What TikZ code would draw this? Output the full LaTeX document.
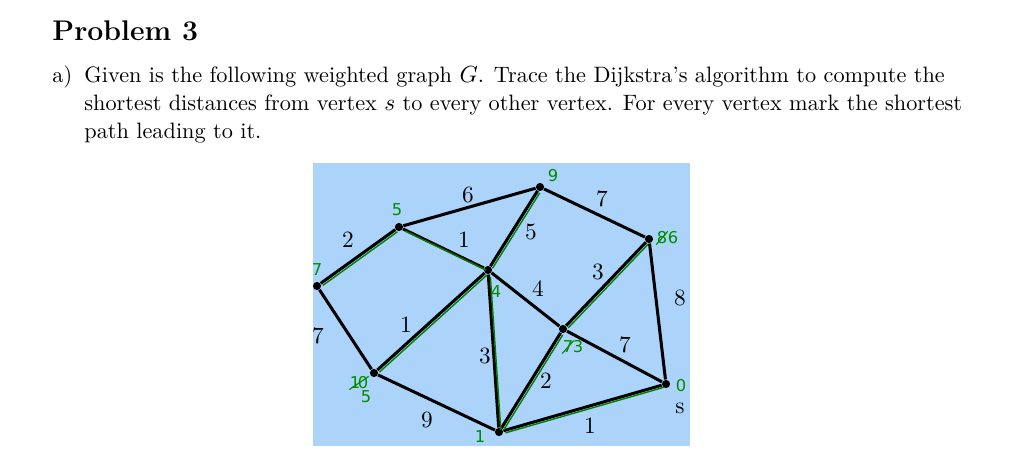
\documentclass[tikz,border=0pt]{standalone}
\usepackage{fontspec}
\newfontfamily\hand{DejaVu Sans}
\definecolor{bgblue}{RGB}{172,212,250}
\begin{document}
\begin{tikzpicture}[x=0.429pt,y=-0.429pt,
  vtx/.style={circle,fill=black,inner sep=0pt,minimum size=3.5pt},
  edge/.style={line width=1.3pt,black},
  gr/.style={green!50!black,line width=0.6pt},
  wt/.style={inner sep=0pt,font=\normalsize},
  gl/.style={inner sep=0pt,text=green!55!black,font=\hand\scriptsize},
  strike/.style={green!55!black,line width=0.5pt},
  txt/.style={anchor=base west,inner sep=0pt,font=\fontsize{9.55}{11}\selectfont}]
\useasboundingbox (0,0) rectangle (1024,470);
\node[anchor=base west,inner sep=0pt,font=\fontsize{12.2}{14}\selectfont\bfseries] (title) at (52,40) {Problem 3};
\node[txt] (la) at (52,82) {a)};
\node[txt] (l1) at (84,82) {Given is the following weighted graph $G$. Trace the Dijkstra's algorithm to compute the};
\node[txt] (l2) at (84,110) {shortest distances from vertex $s$ to every other vertex. For every vertex mark the shortest};
\node[txt] (l3) at (84,138) {path leading to it.};
\fill[bgblue] (313,163) rectangle (690,446);
\node[vtx] (A) at (317,286) {};
\node[vtx] (B) at (399,227) {};
\node[vtx] (C) at (540,187) {};
\node[vtx] (D) at (649,239) {};
\node[vtx] (E) at (488,270) {};
\node[vtx] (F) at (563,329) {};
\node[vtx] (G) at (374,373) {};
\node[vtx] (H) at (499,432) {};
\node[vtx] (S) at (666,384) {};
\foreach \a/\b in {A/B,B/C,C/D,B/E,E/C,A/G,G/E,E/H,E/F,F/D,D/S,F/S,G/H,H/F,H/S}
  \draw[edge] (\a) -- (\b);
\foreach \a/\b in {A/B,B/E,E/C,E/G,E/H,H/F,F/D,H/S}
  \draw[gr,transform canvas={xshift=0.9pt,yshift=-0.9pt}] (\a) -- (\b);
\node[wt] (w1) at (348,240) {2};
\node[wt] (w2) at (468,195) {6};
\node[wt] (w3) at (464,240) {1};
\node[wt] (w4) at (531,232) {5};
\node[wt] (w5) at (602,199) {7};
\node[wt] (w6) at (598,272) {3};
\node[wt] (w7) at (538,289) {4};
\node[wt] (w8) at (680,298) {8};
\node[wt] (w9) at (406,325) {1};
\node[wt] (w10) at (318,336) {7};
\node[wt] (w11) at (485,356) {3};
\node[wt] (w12) at (625,345) {7};
\node[wt] (w13) at (546,381) {2};
\node[wt] (w14) at (427,420) {9};
\node[wt] (w15) at (590,426) {1};
\node[wt] (sl) at (680,408) {s};
\node[gl] (g1) at (397,210) {5};
\node[gl] (g2) at (553,176) {9};
\node[gl] (g3a) at (662,238) {8};
\node[gl] (g3b) at (673,238) {6};
\draw[strike] (g3a.south west) -- (g3a.north east);
\node[gl] (g4) at (317,270) {7};
\node[gl] (g5) at (496,292) {4};
\node[gl] (g6a) at (568,347) {7};
\node[gl] (g6b) at (578,347) {3};
\draw[strike] (g6a.south west) -- (g6a.north east);
\node[gl] (g7) at (359,383) {1\hspace{-1pt}0};
\draw[strike] (g7.south west) -- (g7.north east);
\node[gl] (g8) at (366,397) {5};
\node[gl] (g9) at (480,437) {1};
\node[gl] (g10) at (681,386) {0};
\end{tikzpicture}
\end{document}
